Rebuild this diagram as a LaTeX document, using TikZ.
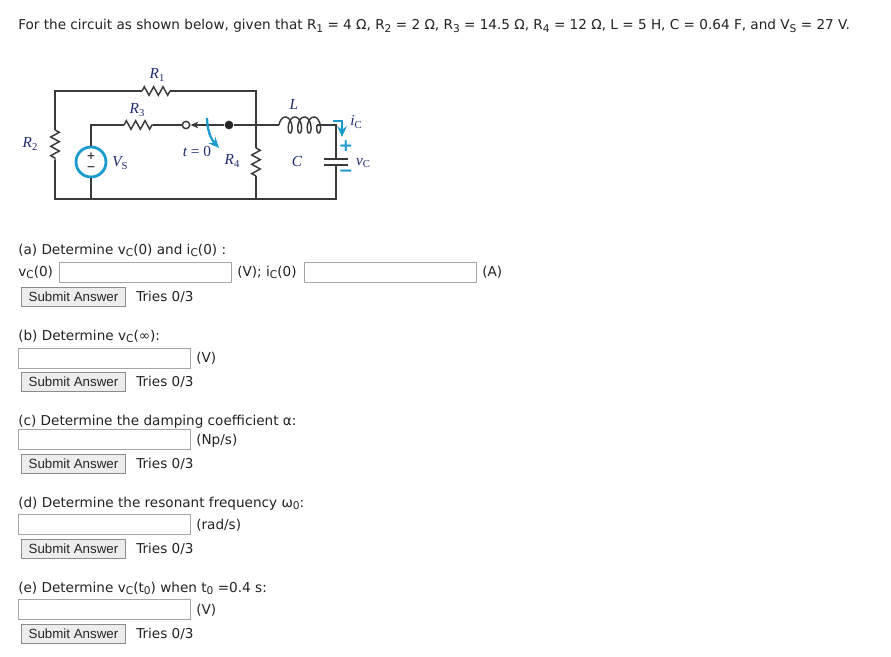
\documentclass[tikz,border=0pt]{standalone}
\usepackage{fontspec}
\setmainfont{DejaVu Sans}
\newfontfamily\btnfont{Liberation Sans}
\newfontfamily\cktfont{Liberation Serif}
\usetikzlibrary{arrows.meta,decorations.pathmorphing}
\definecolor{wirec}{HTML}{3A3A3A}
\definecolor{labelc}{HTML}{1F2A6B}
\definecolor{cyanc}{HTML}{1B9AD0}
\definecolor{textc}{HTML}{222222}
\newcommand{\dn}[1]{\raisebox{-.4ex}{\footnotesize #1}}
\tikzset{
  wire/.style={draw=wirec,line width=1.1pt},
  res/.style={wire,decorate,decoration={zigzag,segment length=7pt,amplitude=3.2pt}},
  cyan arrow/.style={draw=cyanc,line width=1.7pt,-{Stealth[length=8pt,width=7pt]}},
  ckt/.style={inner sep=0pt,text=labelc,font=\cktfont\itshape\fontsize{11.5}{13}\selectfont},
  txt/.style={inner sep=0pt,anchor=base west,text=textc,font=\fontsize{10.2}{12}\selectfont},
  answerbox/.style={draw=black!35,fill=white,line width=.75pt,inner sep=0pt,minimum height=15pt,anchor=north west},
  submit/.style={draw=black!45,fill=black!7,line width=.75pt,inner sep=0pt,minimum width=78pt,minimum height=14.5pt,
    anchor=north west,text=black!85,font=\btnfont\fontsize{10}{11}\selectfont},
}
\begin{document}
\begin{tikzpicture}[x=0.75pt,y=-0.75pt]
  \useasboundingbox (0,0) rectangle (891,656);
  % question
  \node[txt] (intro) at (18,30) {For the circuit as shown below, given that R\dn{1} = 4 Ω, R\dn{2} = 2 Ω, R\dn{3} = 14.5 Ω, R\dn{4} = 12 Ω, L = 5 H, C = 0.64 F, and V\dn{S} = 27 V.};
  % circuit corners
  \coordinate (tl) at (55,91);
  \coordinate (tr) at (256,91);
  \coordinate (bl) at (55,199);
  \coordinate (br) at (336,199);
  \coordinate (bm) at (256,199);
  \coordinate (bs) at (91,199);
  \coordinate (il) at (91,125);
  \coordinate (cc) at (336,125);
  \coordinate (r1a) at (142,91);
  \coordinate (r1b) at (170,91);
  \coordinate (r2a) at (55,130);
  \coordinate (r2b) at (55,160);
  \coordinate (r3a) at (124,125);
  \coordinate (r3b) at (153,125);
  \coordinate (r4a) at (256,148);
  \coordinate (r4b) at (256,176);
  \coordinate (la) at (279,125);
  \coordinate (lb) at (317,125);
  \coordinate (pa) at (336,159);
  \coordinate (pb) at (336,165);
  \coordinate (pal) at (324,159);
  \coordinate (par) at (348,159);
  \coordinate (pbl) at (324,165);
  \coordinate (pbr) at (348,165);
  \node[circle,draw=cyanc,line width=2.1pt,minimum size=22.5pt,inner sep=0pt] (vs) at (91,162) {};
  \node[circle,draw=wirec,line width=1.1pt,fill=white,minimum size=5.5pt,inner sep=0pt] (term) at (186,125) {};
  \node[circle,fill=black!85,minimum size=6.5pt,inner sep=0pt] (dot) at (229,125) {};
  \begin{scope}
    \draw[wire] (r1a) -- (tl) -- (r2a);
    \draw[wire] (r1b) -- (tr) -- (r4a);
    \draw[wire] (r2b) -- (bl) -- (br) -- (pb);
    \draw[wire] (r4b) -- (bm);
    \draw[wire] (vs) -- (il) -- (r3a);
    \draw[wire] (vs) -- (bs);
    \draw[wire] (r3b) -- (term);
    \draw[wire] (dot) -- (la);
    \draw[wire] (lb) -- (cc) -- (pa);
    \draw[res] (r1a) -- (r1b);
    \draw[res] (r2a) -- (r2b);
    \draw[res] (r3a) -- (r3b);
    \draw[res] (r4a) -- (r4b);
    \draw[wire,shift={(la)}] plot[domain=-90:1350,samples=145,smooth,variable=\t]
      ({4+0.0264*(\t+90)+4*sin(\t)},{-8*cos(\t)});
    \draw[wire] (pal) -- (par);
    \draw[wire] (pbl) -- (pbr);
    \draw[wire,-{Stealth[length=6pt,width=5pt]}] (dot) -- (term);
  \end{scope}
  % switch and current arrows
  \coordinate (swa) at (207,118);
  \coordinate (swb) at (219,148);
  \coordinate (ica) at (333,121);
  \coordinate (icb) at (342,121);
  \coordinate (icc) at (342,137);
  \draw[cyan arrow] (swa) to[bend right=20] (swb);
  \draw[cyan arrow] (ica) -- (icb) -- (icc);
  % circuit labels
  \node[ckt] (r1) at (157,75) {R\dn{\upshape 1}};
  \node[ckt] (r2) at (30,144) {R\dn{\upshape 2}};
  \node[ckt] (r3) at (137,110) {R\dn{\upshape 3}};
  \node[ckt] (r4) at (232,161) {R\dn{\upshape 4}};
  \node[ckt] (l) at (294,104) {L};
  \node[ckt] (c) at (297,161) {C};
  \node[ckt] (vslabel) at (120,163) {V\dn{\upshape S}};
  \node[ckt] (t0) at (197,151) {t {\upshape = 0}};
  \node[ckt] (ic) at (356,122) {i\dn{\upshape C}};
  \node[ckt] (vc) at (363,163) {v\dn{\upshape C}};
  \node[inner sep=0pt,font=\bfseries\fontsize{8}{8}\selectfont,text=wirec] (vsp) at (91,156) {+};
  \node[inner sep=0pt,font=\bfseries\fontsize{8}{8}\selectfont,text=wirec] (vsm) at (91,169) {−};
  \node[inner sep=0pt,font=\bfseries\fontsize{13}{13}\selectfont,text=cyanc] (cp) at (346,146) {+};
  \node[inner sep=0pt,font=\bfseries\fontsize{13}{13}\selectfont,text=cyanc] (cm) at (346,173) {−};
  % part a
  \node[txt] (atitle) at (18,254) {(a) Determine v\dn{C}(0) and i\dn{C}(0) :};
  \node[txt] (avc) at (18,276) {v\dn{C}(0)};
  \node[answerbox,minimum width=129pt] (abox1) at (59,262) {};
  \node[txt] (aunit1) at (237,276) {(V); i\dn{C}(0)};
  \node[answerbox,minimum width=129pt] (abox2) at (304,262) {};
  \node[txt] (aunit2) at (482,276) {(A)};
  \node[submit] (abtn) at (21,287) {Submit Answer};
  \node[txt] (atries) at (136,301) {Tries 0/3};
  % part b
  \node[txt] (btitle) at (18,340) {(b) Determine v\dn{C}(∞):};
  \node[answerbox,minimum width=129pt] (bbox) at (18,348) {};
  \node[txt] (bunit) at (196,362) {(V)};
  \node[submit] (bbtn) at (21,372) {Submit Answer};
  \node[txt] (btries) at (136,386) {Tries 0/3};
  % part c
  \node[txt] (ctitle) at (18,425) {(c) Determine the damping coefficient α:};
  \node[answerbox,minimum width=129pt] (cbox) at (18,429) {};
  \node[txt] (cunit) at (196,444) {(Np/s)};
  \node[submit] (cbtn) at (21,454) {Submit Answer};
  \node[txt] (ctries) at (136,468) {Tries 0/3};
  % part d
  \node[txt] (dtitle) at (18,507) {(d) Determine the resonant frequency ω\dn{0}:};
  \node[answerbox,minimum width=129pt] (dbox) at (18,514) {};
  \node[txt] (dunit) at (196,529) {(rad/s)};
  \node[submit] (dbtn) at (21,539) {Submit Answer};
  \node[txt] (dtries) at (136,553) {Tries 0/3};
  % part e
  \node[txt] (etitle) at (18,592) {(e) Determine v\dn{C}(t\dn{0}) when t\dn{0} =0.4 s:};
  \node[answerbox,minimum width=129pt] (ebox) at (18,599) {};
  \node[txt] (eunit) at (196,614) {(V)};
  \node[submit] (ebtn) at (21,624) {Submit Answer};
  \node[txt] (etries) at (136,638) {Tries 0/3};
\end{tikzpicture}
\end{document}
